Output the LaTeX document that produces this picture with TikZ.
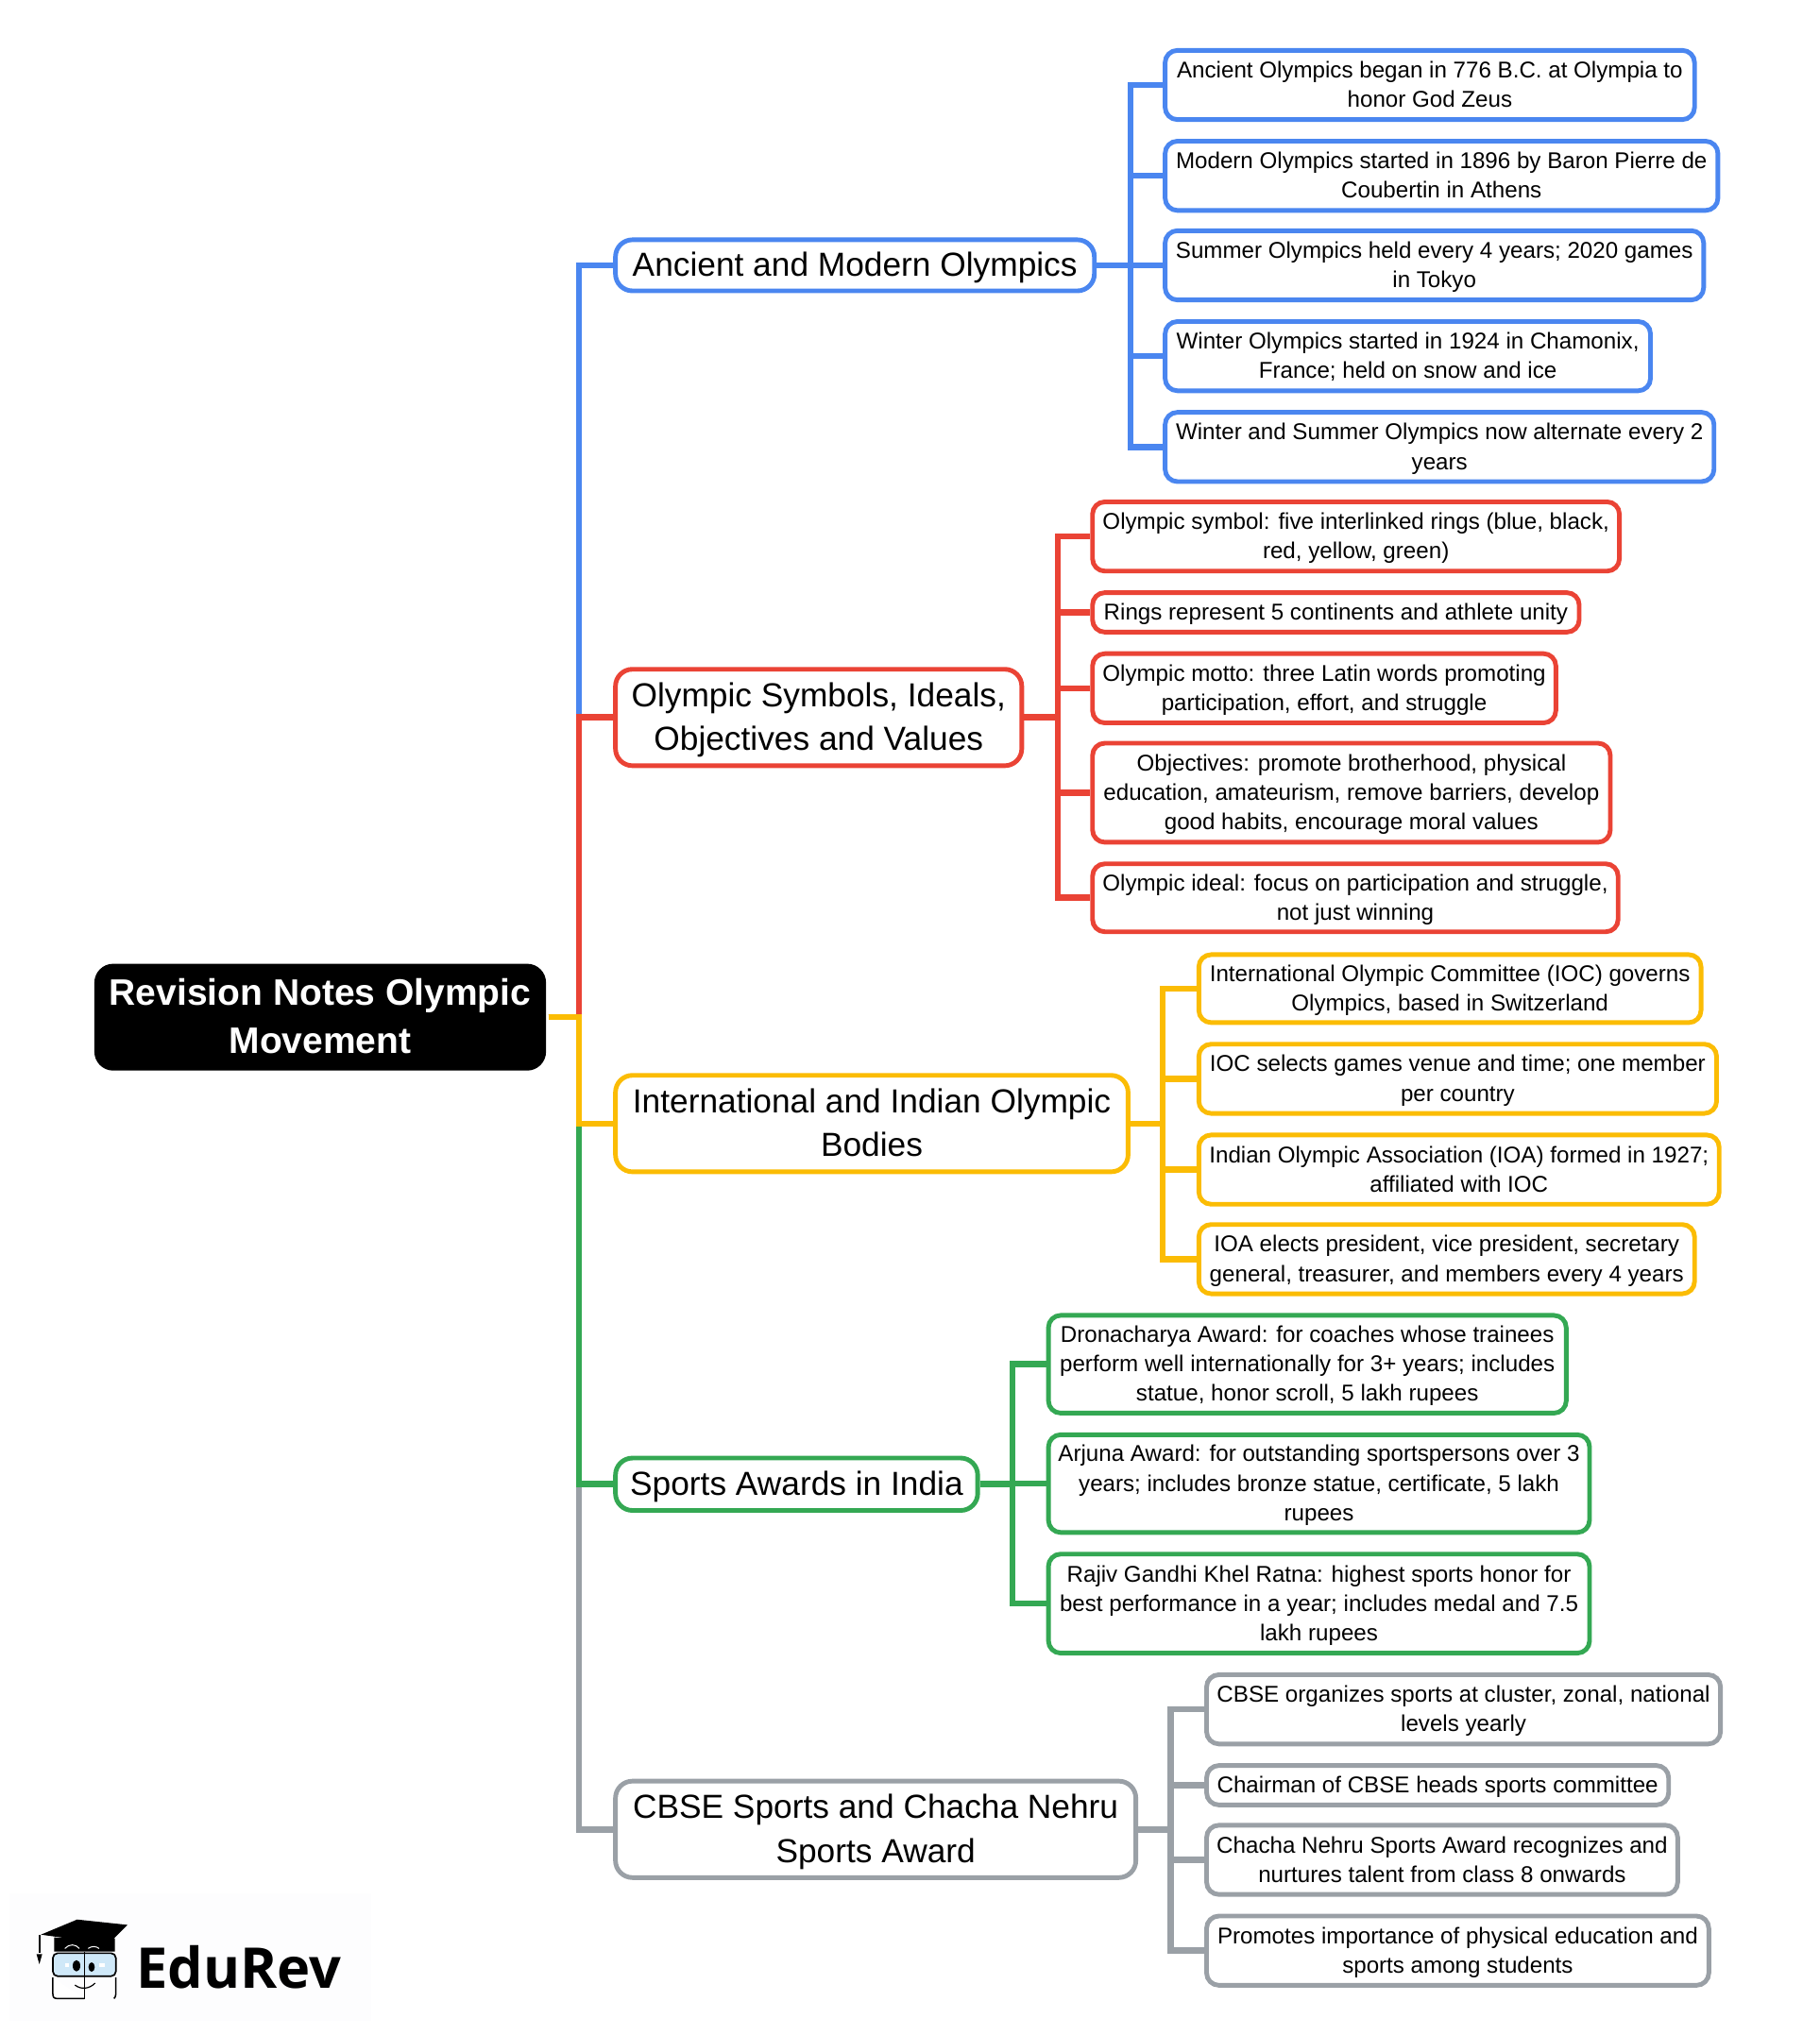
\documentclass[tikz,border=0pt]{standalone}
\usepackage{fontspec}
\setmainfont{Liberation Sans}
\newfontfamily\logofont{Open Sans}
\definecolor{cA}{HTML}{4A86F0}
\definecolor{cB}{HTML}{EA4335}
\definecolor{cC}{HTML}{FBBC04}
\definecolor{cD}{HTML}{34A853}
\definecolor{cE}{HTML}{9AA0A6}
\definecolor{lensblue}{HTML}{CFE8F8}
\definecolor{logobg}{HTML}{FDFDFE}
\tikzset{
  nd/.style={rectangle,align=center,inner sep=0pt,fill=white,line width=4.9pt},
  leaf/.style={nd,rounded corners=13pt,font=\fontsize{24.15}{31.2}\selectfont},
  branch/.style={nd,rounded corners=18pt,font=\fontsize{35.3}{46.5}\selectfont},
  rootnode/.style={nd,draw=none,fill=black,text=white,rounded corners=20pt,font=\bfseries\fontsize{39}{51}\selectfont},
  conn/.style={line width=6.6pt,line join=miter}
}
% style, name, x1, y1, x2, y2, text (in the reference's displayed units)
\newcommand\bx[7]{%
  \pgfmathsetmacro\bw{(#5-#3+3)*1.3725-4.9}%
  \pgfmathsetmacro\bh{(#6-#4+3)*1.3725-4.9}%
  \pgfmathsetmacro\bcx{(#3+#5)/2+1.5}%
  \pgfmathsetmacro\bcy{(#4+#6)/2*1.001+0.5}%
  \node[#1,minimum width=\bw pt,minimum height=\bh pt] (#2) at (\bcx,\bcy) {\rule{0pt}{.88em}#7\rule[-.21em]{0pt}{.21em}};}
\begin{document}
\begin{tikzpicture}[x=1.3725pt,y=-1.3725pt]
\useasboundingbox (0,0) rectangle (1403.3,1570.1);
\coordinate (tr) at (446.5,0);
\coordinate (sA) at (872,0);
\coordinate (sB) at (816,0);
\coordinate (sC) at (897,0);
\coordinate (sD) at (781,0);
\coordinate (sE) at (903,0);

\bx{rootnode}{root}{71}{742}{420}{825}{Revision Notes Olympic\\Movement}

\bx{branch,draw=cA}{A}{473}{184}{843}{224}{Ancient and Modern Olympics}
\bx{leaf,draw=cA}{A1}{897}{38}{1306}{92}{Ancient Olympics began in 776 B.C. at Olympia to\\honor God Zeus}
\bx{leaf,draw=cA}{A2}{897}{108}{1324}{162}{Modern Olympics started in 1896 by Baron Pierre de\\Coubertin in Athens}
\bx{leaf,draw=cA}{A3}{897}{177}{1313}{231}{Summer Olympics held every 4 years; 2020 games\\in Tokyo}
\bx{leaf,draw=cA}{A4}{897}{247}{1272}{301}{Winter Olympics started in 1924 in Chamonix,\\France; held on snow and ice}
\bx{leaf,draw=cA}{A5}{897}{317}{1321}{371}{Winter and Summer Olympics now alternate every 2\\years}

\bx{branch,draw=cB}{B}{473}{515}{787}{590}{Olympic Symbols, Ideals,\\Objectives and Values}
\bx{leaf,draw=cB}{B1}{841}{386}{1248}{440}{Olympic symbol: five interlinked rings (blue, black,\\red, yellow, green)}
\bx{leaf,draw=cB}{B2}{841}{456}{1217}{487}{Rings represent 5 continents and athlete unity}
\bx{leaf,draw=cB}{B3}{841}{503}{1199}{557}{Olympic motto: three Latin words promoting\\participation, effort, and struggle}
\bx{leaf,draw=cB}{B4}{841}{572}{1241}{649}{Objectives: promote brotherhood, physical\\education, amateurism, remove barriers, develop\\good habits, encourage moral values}
\bx{leaf,draw=cB}{B5}{841}{665}{1247}{718}{Olympic ideal: focus on participation and struggle,\\not just winning}

\bx{branch,draw=cC}{C}{473}{828}{869}{903}{International and Indian Olympic\\Bodies}
\bx{leaf,draw=cC}{C1}{923}{735}{1311}{788}{International Olympic Committee (IOC) governs\\Olympics, based in Switzerland}
\bx{leaf,draw=cC}{C2}{923}{804}{1323}{858}{IOC selects games venue and time; one member\\per country}
\bx{leaf,draw=cC}{C3}{923}{874}{1325}{928}{Indian Olympic Association (IOA) formed in 1927;\\affiliated with IOC}
\bx{leaf,draw=cC}{C4}{923}{943}{1306}{997}{IOA elects president, vice president, secretary\\general, treasurer, and members every 4 years}

\bx{branch,draw=cD}{D}{473}{1123}{753}{1164}{Sports Awards in India}
\bx{leaf,draw=cD}{D1}{807}{1013}{1207}{1089}{Dronacharya Award: for coaches whose trainees\\perform well internationally for 3+ years; includes\\statue, honor scroll, 5 lakh rupees}
\bx{leaf,draw=cD}{D2}{807}{1105}{1225}{1181}{Arjuna Award: for outstanding sportspersons over 3\\years; includes bronze statue, certificate, 5 lakh\\rupees}
\bx{leaf,draw=cD}{D3}{807}{1197}{1225}{1274}{Rajiv Gandhi Khel Ratna: highest sports honor for\\best performance in a year; includes medal and 7.5\\lakh rupees}

\bx{branch,draw=cE}{E}{473}{1372}{875}{1447}{CBSE Sports and Chacha Nehru\\Sports Award}
\bx{leaf,draw=cE}{E1}{929}{1290}{1326}{1344}{CBSE organizes sports at cluster, zonal, national\\levels yearly}
\bx{leaf,draw=cE}{E2}{929}{1360}{1286}{1391}{Chairman of CBSE heads sports committee}
\bx{leaf,draw=cE}{E3}{929}{1406}{1293}{1460}{Chacha Nehru Sports Award recognizes and\\nurtures talent from class 8 onwards}
\bx{leaf,draw=cE}{E4}{929}{1476}{1317}{1530}{Promotes importance of physical education and\\sports among students}

% connectors from the root to the branches
\foreach \b/\c in {A/cA,B/cB,E/cE,D/cD,C/cC}
  \draw[conn,draw=\c] (root.east) -- (tr |- root.east) -- (tr |- \b.west) -- (\b.west);

% connectors from the branches to the leaves
\foreach \b/\c/\l in {A/cA/{A1,A2,A3,A4,A5},B/cB/{B1,B2,B3,B4,B5},C/cC/{C1,C2,C3,C4},D/cD/{D1,D2,D3},E/cE/{E1,E2,E3,E4}}
  \foreach \n in \l
    \draw[conn,draw=\c] (\b.east) -- (s\b |- \b.east) -- (s\b |- \n.west) -- (\n.west);

% EduRev logo
\begin{scope}[x=1pt,y=-1pt,yshift=-1950pt]
  \fill[fill=logobg] (10,55) rectangle (393,190);
  \begin{scope}[x=0.3333pt,y=-0.3333pt]
    % glasses and face
    \fill[fill=black] (172,305) -- (172,350) -- (365,350) -- (365,308) -- cycle;
    \draw[line width=1.5pt,fill=white] (168,432) -- (168,485) .. controls (168,495) and (172,499) .. (182,499) -- (268,499);
    \draw[line width=1.5pt] (368,432) -- (368,485) .. controls (368,492) and (365,496) .. (362,499);
    \draw[line width=1.7pt,fill=lensblue,rounded corners=5pt] (168,355) rectangle (368,428);
    \draw[line width=1.5pt] (268,350) -- (268,500);
    \fill[fill=black] (243,395) ellipse (12 and 18);
    \fill[fill=black] (291,399) ellipse (10 and 15);
    \fill[white] (206,386) rectangle (220,400);
    \fill[white] (316,386) rectangle (332,400);
    \draw[line width=1.2pt] (238,456) .. controls (258,472) and (285,468) .. (302,450);
    \draw[white,line width=1pt] (206,340) .. controls (220,325) and (240,325) .. (252,340);
    \draw[white,line width=1pt] (280,340) .. controls (290,332) and (305,332) .. (315,340);
    % cap
    \fill[fill=black] (130,296) -- (245,248) -- (405,265) -- (335,335) -- (245,312) -- cycle;
    \fill[fill=black] (122,298) rectangle (128,355);
    \fill[fill=black] (116,358) -- (134,358) -- (125,390) -- cycle;
  \end{scope}
  \node[anchor=base,inner sep=0pt,font=\logofont\bfseries\fontsize{59.5}{60}\selectfont] (logotext) at (253pt,-155pt) {EduRev};
\end{scope}
\end{tikzpicture}
\end{document}
